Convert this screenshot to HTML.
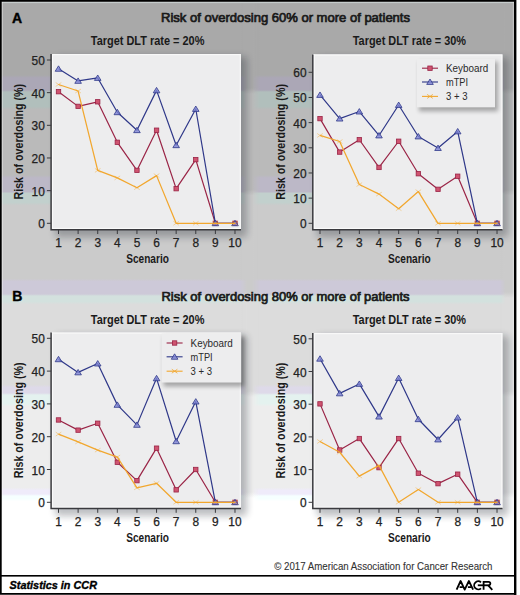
<!DOCTYPE html>
<html><head><meta charset="utf-8"><style>
html,body{margin:0;padding:0;background:#fff;}
svg{display:block;}
text{font-family:'Liberation Sans', sans-serif;fill:#1a1a1a;}
.tl{font-size:11.9px;fill:#222;stroke:#222;stroke-width:0.25px;}
.xl{font-size:11.9px;font-weight:bold;}
.st{font-size:12px;font-weight:bold;}
.ti{font-size:13px;stroke:#1a1a1a;stroke-width:0.72px;}
.pl{font-size:14px;font-weight:bold;fill:#000;stroke:#000;stroke-width:0.4px;}
.lg{font-size:10.5px;fill:#2a2a2a;}
</style></head><body>
<svg width="520" height="595" viewBox="0 0 520 595">
<defs>
<filter id="blur" x="-10%" y="-10%" width="120%" height="120%"><feGaussianBlur stdDeviation="3.5"/></filter>
<filter id="blur2" x="-20%" y="-20%" width="140%" height="140%"><feGaussianBlur stdDeviation="2"/></filter>
</defs>
<rect x="0" y="0" width="520" height="595" fill="#fff"/>

<defs><linearGradient id="bands" x1="0" y1="0" x2="0" y2="1"><stop offset="0.00000" stop-color="rgb(169,169,169)"/><stop offset="0.12816" stop-color="rgb(169,169,169)"/><stop offset="0.13339" stop-color="rgb(171,167,182)"/><stop offset="0.15432" stop-color="rgb(171,167,182)"/><stop offset="0.15780" stop-color="rgb(177,191,188)"/><stop offset="0.18309" stop-color="rgb(177,191,188)"/><stop offset="0.18832" stop-color="rgb(186,186,186)"/><stop offset="0.30253" stop-color="rgb(186,186,186)"/><stop offset="0.30776" stop-color="rgb(188,184,199)"/><stop offset="0.33130" stop-color="rgb(188,184,199)"/><stop offset="0.33479" stop-color="rgb(194,208,205)"/><stop offset="0.35048" stop-color="rgb(194,208,205)"/><stop offset="0.35571" stop-color="rgb(203,203,203)"/><stop offset="0.48300" stop-color="rgb(203,203,203)"/><stop offset="0.48823" stop-color="rgb(205,201,216)"/><stop offset="0.51003" stop-color="rgb(205,201,216)"/><stop offset="0.51351" stop-color="rgb(211,225,222)"/><stop offset="0.52310" stop-color="rgb(211,225,222)"/><stop offset="0.52833" stop-color="rgb(220,220,220)"/><stop offset="0.66783" stop-color="rgb(220,220,220)"/><stop offset="0.67306" stop-color="rgb(222,218,233)"/><stop offset="0.68265" stop-color="rgb(222,218,233)"/><stop offset="0.68614" stop-color="rgb(228,242,239)"/><stop offset="0.70096" stop-color="rgb(228,242,239)"/><stop offset="0.70619" stop-color="rgb(237,237,237)"/><stop offset="0.84743" stop-color="rgb(237,237,237)"/><stop offset="0.85266" stop-color="rgb(239,235,250)"/><stop offset="0.85876" stop-color="rgb(239,235,250)"/><stop offset="0.86225" stop-color="rgb(246,255,255)"/><stop offset="0.86661" stop-color="rgb(246,255,255)"/><stop offset="0.87184" stop-color="rgb(255,255,255)"/><stop offset="1.00000" stop-color="rgb(255,255,255)"/></linearGradient><linearGradient id="bands2" x1="0" y1="0" x2="0" y2="1"><stop offset="0.00000" stop-color="rgb(169,169,169)"/><stop offset="0.15083" stop-color="rgb(169,169,169)"/><stop offset="0.16129" stop-color="rgb(186,186,186)"/><stop offset="0.32781" stop-color="rgb(186,186,186)"/><stop offset="0.33827" stop-color="rgb(203,203,203)"/><stop offset="0.50654" stop-color="rgb(203,203,203)"/><stop offset="0.51700" stop-color="rgb(220,220,220)"/><stop offset="0.67916" stop-color="rgb(220,220,220)"/><stop offset="0.68963" stop-color="rgb(237,237,237)"/><stop offset="0.85527" stop-color="rgb(237,237,237)"/><stop offset="0.86574" stop-color="rgb(255,255,255)"/><stop offset="1.00000" stop-color="rgb(255,255,255)"/></linearGradient><linearGradient id="hm" x1="0" y1="0" x2="520" y2="0" gradientUnits="userSpaceOnUse"><stop offset="0" stop-color="#000"/><stop offset="0.462" stop-color="#000"/><stop offset="0.475" stop-color="#fff"/><stop offset="0.485" stop-color="#fff"/><stop offset="0.50" stop-color="#000"/><stop offset="0.962" stop-color="#000"/><stop offset="0.972" stop-color="#fff"/><stop offset="1" stop-color="#fff"/></linearGradient><mask id="shm" maskUnits="userSpaceOnUse" x="0" y="0" width="520" height="595"><rect x="0" y="0" width="520" height="595" fill="url(#hm)"/></mask></defs><rect x="1.5" y="1.5" width="513" height="573.5" fill="url(#bands)"/><rect x="1.5" y="1.5" width="513" height="573.5" fill="url(#bands2)" mask="url(#shm)"/>
<rect x="1.8" y="1.8" width="512" height="1.3" fill="#c6cccc"/>
<rect x="1.8" y="1.8" width="1.2" height="573" fill="#ffffff" opacity="0.35"/>
<rect x="512.8" y="1.8" width="1.2" height="573" fill="#ffffff" opacity="0.3"/>

<text x="12" y="22.6" class="pl">A</text>
<text x="285.5" y="22.2" text-anchor="middle" class="ti" textLength="249" lengthAdjust="spacingAndGlyphs">Risk of overdosing 60% or more of patients</text>
<text x="147.6" y="45.3" text-anchor="middle" class="st" textLength="113.6" lengthAdjust="spacingAndGlyphs">Target DLT rate = 20%</text>
<text x="409.4" y="45.3" text-anchor="middle" class="st" textLength="113.3" lengthAdjust="spacingAndGlyphs">Target DLT rate = 30%</text>
<rect x="55.1" y="56.5" width="191.9" height="180.8" rx="4" fill="#0a1624" opacity="0.27" filter="url(#blur)"/>
<rect x="51.1" y="54" width="189.9" height="175.8" fill="#ededee"/>
<rect x="51.9" y="54" width="1.2" height="175.0" fill="#fafafa"/>
<rect x="51.6" y="54.6" width="188.70000000000002" height="174.60000000000002" fill="none" stroke="#f8f8f8" stroke-width="1.2"/>
<rect x="51.9" y="227.8" width="189.1" height="1.3" fill="#fafafa"/>
<path d="M51.1 54 L51.1 229.8 L241 229.8" stroke="#3a3a3e" stroke-width="1.5" fill="none"/>
<line x1="46.9" y1="223.30" x2="51.1" y2="223.30" stroke="#3a3a3e" stroke-width="1"/>
<text x="44.800000000000004" y="228.30" text-anchor="end" class="tl">0</text>
<line x1="46.9" y1="190.64" x2="51.1" y2="190.64" stroke="#3a3a3e" stroke-width="1"/>
<text x="44.800000000000004" y="195.64" text-anchor="end" class="tl">10</text>
<line x1="46.9" y1="157.98" x2="51.1" y2="157.98" stroke="#3a3a3e" stroke-width="1"/>
<text x="44.800000000000004" y="162.98" text-anchor="end" class="tl">20</text>
<line x1="46.9" y1="125.32" x2="51.1" y2="125.32" stroke="#3a3a3e" stroke-width="1"/>
<text x="44.800000000000004" y="130.32" text-anchor="end" class="tl">30</text>
<line x1="46.9" y1="92.66" x2="51.1" y2="92.66" stroke="#3a3a3e" stroke-width="1"/>
<text x="44.800000000000004" y="97.66" text-anchor="end" class="tl">40</text>
<line x1="46.9" y1="60.00" x2="51.1" y2="60.00" stroke="#3a3a3e" stroke-width="1"/>
<text x="44.800000000000004" y="65.00" text-anchor="end" class="tl">50</text>
<line x1="58.50" y1="229.8" x2="58.50" y2="234.0" stroke="#3a3a3e" stroke-width="1"/>
<text x="58.50" y="246.80" text-anchor="middle" class="tl">1</text>
<line x1="78.11" y1="229.8" x2="78.11" y2="234.0" stroke="#3a3a3e" stroke-width="1"/>
<text x="78.11" y="246.80" text-anchor="middle" class="tl">2</text>
<line x1="97.72" y1="229.8" x2="97.72" y2="234.0" stroke="#3a3a3e" stroke-width="1"/>
<text x="97.72" y="246.80" text-anchor="middle" class="tl">3</text>
<line x1="117.33" y1="229.8" x2="117.33" y2="234.0" stroke="#3a3a3e" stroke-width="1"/>
<text x="117.33" y="246.80" text-anchor="middle" class="tl">4</text>
<line x1="136.94" y1="229.8" x2="136.94" y2="234.0" stroke="#3a3a3e" stroke-width="1"/>
<text x="136.94" y="246.80" text-anchor="middle" class="tl">5</text>
<line x1="156.55" y1="229.8" x2="156.55" y2="234.0" stroke="#3a3a3e" stroke-width="1"/>
<text x="156.55" y="246.80" text-anchor="middle" class="tl">6</text>
<line x1="176.16" y1="229.8" x2="176.16" y2="234.0" stroke="#3a3a3e" stroke-width="1"/>
<text x="176.16" y="246.80" text-anchor="middle" class="tl">7</text>
<line x1="195.77" y1="229.8" x2="195.77" y2="234.0" stroke="#3a3a3e" stroke-width="1"/>
<text x="195.77" y="246.80" text-anchor="middle" class="tl">8</text>
<line x1="215.38" y1="229.8" x2="215.38" y2="234.0" stroke="#3a3a3e" stroke-width="1"/>
<text x="215.38" y="246.80" text-anchor="middle" class="tl">9</text>
<line x1="234.99" y1="229.8" x2="234.99" y2="234.0" stroke="#3a3a3e" stroke-width="1"/>
<text x="234.99" y="246.80" text-anchor="middle" class="tl">10</text>
<polyline points="58.50,91.68 78.11,106.38 97.72,101.80 117.33,142.30 136.94,170.39 156.55,130.22 176.16,188.68 195.77,159.61 215.38,223.30 234.99,223.30" fill="none" stroke="#9a2446" stroke-width="1.2" stroke-linejoin="round"/>
<rect x="56.30" y="89.48" width="4.4" height="4.4" fill="#cf5470" stroke="#9a2446" stroke-width="0.8"/>
<rect x="75.91" y="104.18" width="4.4" height="4.4" fill="#cf5470" stroke="#9a2446" stroke-width="0.8"/>
<rect x="95.52" y="99.60" width="4.4" height="4.4" fill="#cf5470" stroke="#9a2446" stroke-width="0.8"/>
<rect x="115.13" y="140.10" width="4.4" height="4.4" fill="#cf5470" stroke="#9a2446" stroke-width="0.8"/>
<rect x="134.74" y="168.19" width="4.4" height="4.4" fill="#cf5470" stroke="#9a2446" stroke-width="0.8"/>
<rect x="154.35" y="128.02" width="4.4" height="4.4" fill="#cf5470" stroke="#9a2446" stroke-width="0.8"/>
<rect x="173.96" y="186.48" width="4.4" height="4.4" fill="#cf5470" stroke="#9a2446" stroke-width="0.8"/>
<rect x="193.57" y="157.41" width="4.4" height="4.4" fill="#cf5470" stroke="#9a2446" stroke-width="0.8"/>
<rect x="213.18" y="221.10" width="4.4" height="4.4" fill="#cf5470" stroke="#9a2446" stroke-width="0.8"/>
<rect x="232.79" y="221.10" width="4.4" height="4.4" fill="#cf5470" stroke="#9a2446" stroke-width="0.8"/>
<polyline points="58.50,68.82 78.11,80.90 97.72,77.96 117.33,112.26 136.94,130.22 156.55,90.37 176.16,145.24 195.77,108.99 215.38,223.30 234.99,223.30" fill="none" stroke="#2f3889" stroke-width="1.2" stroke-linejoin="round"/>
<path d="M58.50 65.85 L61.80 71.25 L55.20 71.25 Z" fill="#8084d4" fill-opacity="0.8" stroke="#2f3889" stroke-width="0.8" stroke-linejoin="miter"/>
<path d="M78.11 77.93 L81.41 83.33 L74.81 83.33 Z" fill="#8084d4" fill-opacity="0.8" stroke="#2f3889" stroke-width="0.8" stroke-linejoin="miter"/>
<path d="M97.72 74.99 L101.02 80.39 L94.42 80.39 Z" fill="#8084d4" fill-opacity="0.8" stroke="#2f3889" stroke-width="0.8" stroke-linejoin="miter"/>
<path d="M117.33 109.29 L120.63 114.69 L114.03 114.69 Z" fill="#8084d4" fill-opacity="0.8" stroke="#2f3889" stroke-width="0.8" stroke-linejoin="miter"/>
<path d="M136.94 127.25 L140.24 132.65 L133.64 132.65 Z" fill="#8084d4" fill-opacity="0.8" stroke="#2f3889" stroke-width="0.8" stroke-linejoin="miter"/>
<path d="M156.55 87.40 L159.85 92.80 L153.25 92.80 Z" fill="#8084d4" fill-opacity="0.8" stroke="#2f3889" stroke-width="0.8" stroke-linejoin="miter"/>
<path d="M176.16 142.27 L179.46 147.67 L172.86 147.67 Z" fill="#8084d4" fill-opacity="0.8" stroke="#2f3889" stroke-width="0.8" stroke-linejoin="miter"/>
<path d="M195.77 106.02 L199.07 111.42 L192.47 111.42 Z" fill="#8084d4" fill-opacity="0.8" stroke="#2f3889" stroke-width="0.8" stroke-linejoin="miter"/>
<path d="M215.38 220.33 L218.68 225.73 L212.08 225.73 Z" fill="#8084d4" fill-opacity="0.8" stroke="#2f3889" stroke-width="0.8" stroke-linejoin="miter"/>
<path d="M234.99 220.33 L238.29 225.73 L231.69 225.73 Z" fill="#8084d4" fill-opacity="0.8" stroke="#2f3889" stroke-width="0.8" stroke-linejoin="miter"/>
<polyline points="58.50,84.50 78.11,91.03 97.72,170.39 117.33,177.90 136.94,187.70 156.55,175.62 176.16,223.30 195.77,223.30 215.38,223.30 234.99,223.30" fill="none" stroke="#f2a72e" stroke-width="1.25" stroke-linejoin="round"/>
<path d="M55.70 82.54 L61.30 86.45 M55.70 86.45 L61.30 82.54" stroke="#f2a72e" stroke-width="0.6" opacity="0.75" fill="none"/>
<path d="M75.31 89.07 L80.91 92.99 M75.31 92.99 L80.91 89.07" stroke="#f2a72e" stroke-width="0.6" opacity="0.75" fill="none"/>
<path d="M94.92 168.43 L100.52 172.35 M94.92 172.35 L100.52 168.43" stroke="#f2a72e" stroke-width="0.6" opacity="0.75" fill="none"/>
<path d="M114.53 175.94 L120.13 179.86 M114.53 179.86 L120.13 175.94" stroke="#f2a72e" stroke-width="0.6" opacity="0.75" fill="none"/>
<path d="M134.14 185.74 L139.74 189.66 M134.14 189.66 L139.74 185.74" stroke="#f2a72e" stroke-width="0.6" opacity="0.75" fill="none"/>
<path d="M153.75 173.66 L159.35 177.58 M153.75 177.58 L159.35 173.66" stroke="#f2a72e" stroke-width="0.6" opacity="0.75" fill="none"/>
<path d="M173.36 221.34 L178.96 225.26 M173.36 225.26 L178.96 221.34" stroke="#f2a72e" stroke-width="0.6" opacity="0.75" fill="none"/>
<path d="M192.97 221.34 L198.57 225.26 M192.97 225.26 L198.57 221.34" stroke="#f2a72e" stroke-width="0.6" opacity="0.75" fill="none"/>
<path d="M212.58 221.34 L218.18 225.26 M212.58 225.26 L218.18 221.34" stroke="#f2a72e" stroke-width="0.6" opacity="0.75" fill="none"/>
<path d="M232.19 221.34 L237.79 225.26 M232.19 225.26 L237.79 221.34" stroke="#f2a72e" stroke-width="0.6" opacity="0.75" fill="none"/>
<text x="147.55" y="262.80" text-anchor="middle" class="xl" textLength="42.8" lengthAdjust="spacingAndGlyphs">Scenario</text>
<text transform="translate(23.20,141.70) rotate(-90)" text-anchor="middle" class="xl" textLength="115.7" lengthAdjust="spacingAndGlyphs">Risk of overdosing (%)</text>
<rect x="316.8" y="56.9" width="191.7" height="180.4" rx="4" fill="#0a1624" opacity="0.27" filter="url(#blur)"/>
<rect x="312.8" y="54.4" width="189.7" height="175.4" fill="#ededee"/>
<rect x="313.6" y="54.4" width="1.2" height="174.6" fill="#fafafa"/>
<rect x="313.3" y="55.0" width="188.5" height="174.20000000000002" fill="none" stroke="#f8f8f8" stroke-width="1.2"/>
<rect x="313.6" y="227.8" width="188.89999999999998" height="1.3" fill="#fafafa"/>
<path d="M312.8 54.4 L312.8 229.8 L502.5 229.8" stroke="#3a3a3e" stroke-width="1.5" fill="none"/>
<line x1="308.6" y1="223.30" x2="312.8" y2="223.30" stroke="#3a3a3e" stroke-width="1"/>
<text x="306.5" y="228.30" text-anchor="end" class="tl">0</text>
<line x1="308.6" y1="198.13" x2="312.8" y2="198.13" stroke="#3a3a3e" stroke-width="1"/>
<text x="306.5" y="203.13" text-anchor="end" class="tl">10</text>
<line x1="308.6" y1="172.97" x2="312.8" y2="172.97" stroke="#3a3a3e" stroke-width="1"/>
<text x="306.5" y="177.97" text-anchor="end" class="tl">20</text>
<line x1="308.6" y1="147.80" x2="312.8" y2="147.80" stroke="#3a3a3e" stroke-width="1"/>
<text x="306.5" y="152.80" text-anchor="end" class="tl">30</text>
<line x1="308.6" y1="122.63" x2="312.8" y2="122.63" stroke="#3a3a3e" stroke-width="1"/>
<text x="306.5" y="127.63" text-anchor="end" class="tl">40</text>
<line x1="308.6" y1="97.47" x2="312.8" y2="97.47" stroke="#3a3a3e" stroke-width="1"/>
<text x="306.5" y="102.47" text-anchor="end" class="tl">50</text>
<line x1="308.6" y1="72.30" x2="312.8" y2="72.30" stroke="#3a3a3e" stroke-width="1"/>
<text x="306.5" y="77.30" text-anchor="end" class="tl">60</text>
<line x1="320.00" y1="229.8" x2="320.00" y2="234.0" stroke="#3a3a3e" stroke-width="1"/>
<text x="320.00" y="246.80" text-anchor="middle" class="tl">1</text>
<line x1="339.67" y1="229.8" x2="339.67" y2="234.0" stroke="#3a3a3e" stroke-width="1"/>
<text x="339.67" y="246.80" text-anchor="middle" class="tl">2</text>
<line x1="359.34" y1="229.8" x2="359.34" y2="234.0" stroke="#3a3a3e" stroke-width="1"/>
<text x="359.34" y="246.80" text-anchor="middle" class="tl">3</text>
<line x1="379.01" y1="229.8" x2="379.01" y2="234.0" stroke="#3a3a3e" stroke-width="1"/>
<text x="379.01" y="246.80" text-anchor="middle" class="tl">4</text>
<line x1="398.68" y1="229.8" x2="398.68" y2="234.0" stroke="#3a3a3e" stroke-width="1"/>
<text x="398.68" y="246.80" text-anchor="middle" class="tl">5</text>
<line x1="418.35" y1="229.8" x2="418.35" y2="234.0" stroke="#3a3a3e" stroke-width="1"/>
<text x="418.35" y="246.80" text-anchor="middle" class="tl">6</text>
<line x1="438.02" y1="229.8" x2="438.02" y2="234.0" stroke="#3a3a3e" stroke-width="1"/>
<text x="438.02" y="246.80" text-anchor="middle" class="tl">7</text>
<line x1="457.69" y1="229.8" x2="457.69" y2="234.0" stroke="#3a3a3e" stroke-width="1"/>
<text x="457.69" y="246.80" text-anchor="middle" class="tl">8</text>
<line x1="477.36" y1="229.8" x2="477.36" y2="234.0" stroke="#3a3a3e" stroke-width="1"/>
<text x="477.36" y="246.80" text-anchor="middle" class="tl">9</text>
<line x1="497.03" y1="229.8" x2="497.03" y2="234.0" stroke="#3a3a3e" stroke-width="1"/>
<text x="497.03" y="246.80" text-anchor="middle" class="tl">10</text>
<polyline points="320.00,118.61 339.67,152.08 359.34,139.75 379.01,167.43 398.68,141.26 418.35,173.72 438.02,189.33 457.69,176.24 477.36,223.30 497.03,223.30" fill="none" stroke="#9a2446" stroke-width="1.2" stroke-linejoin="round"/>
<rect x="317.80" y="116.41" width="4.4" height="4.4" fill="#cf5470" stroke="#9a2446" stroke-width="0.8"/>
<rect x="337.47" y="149.88" width="4.4" height="4.4" fill="#cf5470" stroke="#9a2446" stroke-width="0.8"/>
<rect x="357.14" y="137.55" width="4.4" height="4.4" fill="#cf5470" stroke="#9a2446" stroke-width="0.8"/>
<rect x="376.81" y="165.23" width="4.4" height="4.4" fill="#cf5470" stroke="#9a2446" stroke-width="0.8"/>
<rect x="396.48" y="139.06" width="4.4" height="4.4" fill="#cf5470" stroke="#9a2446" stroke-width="0.8"/>
<rect x="416.15" y="171.52" width="4.4" height="4.4" fill="#cf5470" stroke="#9a2446" stroke-width="0.8"/>
<rect x="435.82" y="187.13" width="4.4" height="4.4" fill="#cf5470" stroke="#9a2446" stroke-width="0.8"/>
<rect x="455.49" y="174.04" width="4.4" height="4.4" fill="#cf5470" stroke="#9a2446" stroke-width="0.8"/>
<rect x="475.16" y="221.10" width="4.4" height="4.4" fill="#cf5470" stroke="#9a2446" stroke-width="0.8"/>
<rect x="494.83" y="221.10" width="4.4" height="4.4" fill="#cf5470" stroke="#9a2446" stroke-width="0.8"/>
<polyline points="320.00,94.95 339.67,118.61 359.34,111.56 379.01,135.47 398.68,105.02 418.35,136.48 438.02,148.05 457.69,131.44 477.36,223.30 497.03,223.30" fill="none" stroke="#2f3889" stroke-width="1.2" stroke-linejoin="round"/>
<path d="M320.00 91.98 L323.30 97.38 L316.70 97.38 Z" fill="#8084d4" fill-opacity="0.8" stroke="#2f3889" stroke-width="0.8" stroke-linejoin="miter"/>
<path d="M339.67 115.64 L342.97 121.04 L336.37 121.04 Z" fill="#8084d4" fill-opacity="0.8" stroke="#2f3889" stroke-width="0.8" stroke-linejoin="miter"/>
<path d="M359.34 108.59 L362.64 113.99 L356.04 113.99 Z" fill="#8084d4" fill-opacity="0.8" stroke="#2f3889" stroke-width="0.8" stroke-linejoin="miter"/>
<path d="M379.01 132.50 L382.31 137.90 L375.71 137.90 Z" fill="#8084d4" fill-opacity="0.8" stroke="#2f3889" stroke-width="0.8" stroke-linejoin="miter"/>
<path d="M398.68 102.05 L401.98 107.45 L395.38 107.45 Z" fill="#8084d4" fill-opacity="0.8" stroke="#2f3889" stroke-width="0.8" stroke-linejoin="miter"/>
<path d="M418.35 133.51 L421.65 138.91 L415.05 138.91 Z" fill="#8084d4" fill-opacity="0.8" stroke="#2f3889" stroke-width="0.8" stroke-linejoin="miter"/>
<path d="M438.02 145.08 L441.32 150.48 L434.72 150.48 Z" fill="#8084d4" fill-opacity="0.8" stroke="#2f3889" stroke-width="0.8" stroke-linejoin="miter"/>
<path d="M457.69 128.47 L460.99 133.87 L454.39 133.87 Z" fill="#8084d4" fill-opacity="0.8" stroke="#2f3889" stroke-width="0.8" stroke-linejoin="miter"/>
<path d="M477.36 220.33 L480.66 225.73 L474.06 225.73 Z" fill="#8084d4" fill-opacity="0.8" stroke="#2f3889" stroke-width="0.8" stroke-linejoin="miter"/>
<path d="M497.03 220.33 L500.33 225.73 L493.73 225.73 Z" fill="#8084d4" fill-opacity="0.8" stroke="#2f3889" stroke-width="0.8" stroke-linejoin="miter"/>
<polyline points="320.00,135.47 339.67,141.51 359.34,184.54 379.01,194.11 398.68,208.70 418.35,191.59 438.02,223.30 457.69,223.30 477.36,223.30 497.03,223.30" fill="none" stroke="#f2a72e" stroke-width="1.25" stroke-linejoin="round"/>
<path d="M317.20 133.51 L322.80 137.43 M317.20 137.43 L322.80 133.51" stroke="#f2a72e" stroke-width="0.6" opacity="0.75" fill="none"/>
<path d="M336.87 139.55 L342.47 143.47 M336.87 143.47 L342.47 139.55" stroke="#f2a72e" stroke-width="0.6" opacity="0.75" fill="none"/>
<path d="M356.54 182.58 L362.14 186.50 M356.54 186.50 L362.14 182.58" stroke="#f2a72e" stroke-width="0.6" opacity="0.75" fill="none"/>
<path d="M376.21 192.15 L381.81 196.07 M376.21 196.07 L381.81 192.15" stroke="#f2a72e" stroke-width="0.6" opacity="0.75" fill="none"/>
<path d="M395.88 206.74 L401.48 210.66 M395.88 210.66 L401.48 206.74" stroke="#f2a72e" stroke-width="0.6" opacity="0.75" fill="none"/>
<path d="M415.55 189.63 L421.15 193.55 M415.55 193.55 L421.15 189.63" stroke="#f2a72e" stroke-width="0.6" opacity="0.75" fill="none"/>
<path d="M435.22 221.34 L440.82 225.26 M435.22 225.26 L440.82 221.34" stroke="#f2a72e" stroke-width="0.6" opacity="0.75" fill="none"/>
<path d="M454.89 221.34 L460.49 225.26 M454.89 225.26 L460.49 221.34" stroke="#f2a72e" stroke-width="0.6" opacity="0.75" fill="none"/>
<path d="M474.56 221.34 L480.16 225.26 M474.56 225.26 L480.16 221.34" stroke="#f2a72e" stroke-width="0.6" opacity="0.75" fill="none"/>
<path d="M494.23 221.34 L499.83 225.26 M494.23 225.26 L499.83 221.34" stroke="#f2a72e" stroke-width="0.6" opacity="0.75" fill="none"/>
<text x="409.31" y="262.80" text-anchor="middle" class="xl" textLength="42.8" lengthAdjust="spacingAndGlyphs">Scenario</text>
<text transform="translate(284.90,141.90) rotate(-90)" text-anchor="middle" class="xl" textLength="115.7" lengthAdjust="spacingAndGlyphs">Risk of overdosing (%)</text>
<rect x="419" y="61.7" width="79" height="49.6" fill="#000" opacity="0.3" filter="url(#blur2)"/>
<rect x="417" y="58.7" width="78" height="48.6" fill="#ededee"/>
<line x1="422" y1="68.2" x2="438" y2="68.2" stroke="#9a2446" stroke-width="1.1"/>
<rect x="427.80" y="66.00" width="4.4" height="4.4" fill="#cf5470" stroke="#9a2446" stroke-width="0.8"/>
<text x="446" y="72.00" class="lg" textLength="42.2" lengthAdjust="spacingAndGlyphs">Keyboard</text>
<line x1="422" y1="82.0" x2="438" y2="82.0" stroke="#2f3889" stroke-width="1.1"/>
<path d="M430.00 79.03 L433.30 84.43 L426.70 84.43 Z" fill="#8084d4" fill-opacity="0.8" stroke="#2f3889" stroke-width="0.8" stroke-linejoin="miter"/>
<text x="446" y="85.80" class="lg" textLength="22.0" lengthAdjust="spacingAndGlyphs">mTPI</text>
<line x1="422" y1="96.4" x2="438" y2="96.4" stroke="#f2a72e" stroke-width="1.1"/>
<path d="M427.20 94.44 L432.80 98.36 M427.20 98.36 L432.80 94.44" stroke="#f2a72e" stroke-width="0.9" opacity="0.9" fill="none"/>
<text x="446" y="100.20" class="lg" textLength="21.5" lengthAdjust="spacingAndGlyphs">3 + 3</text>
<text x="12.3" y="301.2" class="pl">B</text>
<text x="285.5" y="300.7" text-anchor="middle" class="ti" textLength="248.2" lengthAdjust="spacingAndGlyphs">Risk of overdosing 80% or more of patients</text>
<text x="147.6" y="323.8" text-anchor="middle" class="st" textLength="113.6" lengthAdjust="spacingAndGlyphs">Target DLT rate = 20%</text>
<text x="409.4" y="323.8" text-anchor="middle" class="st" textLength="113.3" lengthAdjust="spacingAndGlyphs">Target DLT rate = 30%</text>
<rect x="55.1" y="335.0" width="191.9" height="181.10000000000002" rx="4" fill="#0a1624" opacity="0.27" filter="url(#blur)"/>
<rect x="51.1" y="332.5" width="189.9" height="176.10000000000002" fill="#ededee"/>
<rect x="51.9" y="332.5" width="1.2" height="175.3" fill="#fafafa"/>
<rect x="51.6" y="333.1" width="188.70000000000002" height="174.90000000000003" fill="none" stroke="#f8f8f8" stroke-width="1.2"/>
<rect x="51.9" y="506.6" width="189.1" height="1.3" fill="#fafafa"/>
<path d="M51.1 332.5 L51.1 508.6 L241 508.6" stroke="#3a3a3e" stroke-width="1.5" fill="none"/>
<line x1="46.9" y1="502.30" x2="51.1" y2="502.30" stroke="#3a3a3e" stroke-width="1"/>
<text x="44.800000000000004" y="507.30" text-anchor="end" class="tl">0</text>
<line x1="46.9" y1="469.50" x2="51.1" y2="469.50" stroke="#3a3a3e" stroke-width="1"/>
<text x="44.800000000000004" y="474.50" text-anchor="end" class="tl">10</text>
<line x1="46.9" y1="436.70" x2="51.1" y2="436.70" stroke="#3a3a3e" stroke-width="1"/>
<text x="44.800000000000004" y="441.70" text-anchor="end" class="tl">20</text>
<line x1="46.9" y1="403.90" x2="51.1" y2="403.90" stroke="#3a3a3e" stroke-width="1"/>
<text x="44.800000000000004" y="408.90" text-anchor="end" class="tl">30</text>
<line x1="46.9" y1="371.10" x2="51.1" y2="371.10" stroke="#3a3a3e" stroke-width="1"/>
<text x="44.800000000000004" y="376.10" text-anchor="end" class="tl">40</text>
<line x1="46.9" y1="338.30" x2="51.1" y2="338.30" stroke="#3a3a3e" stroke-width="1"/>
<text x="44.800000000000004" y="343.30" text-anchor="end" class="tl">50</text>
<line x1="58.50" y1="508.6" x2="58.50" y2="512.8000000000001" stroke="#3a3a3e" stroke-width="1"/>
<text x="58.50" y="525.60" text-anchor="middle" class="tl">1</text>
<line x1="78.11" y1="508.6" x2="78.11" y2="512.8000000000001" stroke="#3a3a3e" stroke-width="1"/>
<text x="78.11" y="525.60" text-anchor="middle" class="tl">2</text>
<line x1="97.72" y1="508.6" x2="97.72" y2="512.8000000000001" stroke="#3a3a3e" stroke-width="1"/>
<text x="97.72" y="525.60" text-anchor="middle" class="tl">3</text>
<line x1="117.33" y1="508.6" x2="117.33" y2="512.8000000000001" stroke="#3a3a3e" stroke-width="1"/>
<text x="117.33" y="525.60" text-anchor="middle" class="tl">4</text>
<line x1="136.94" y1="508.6" x2="136.94" y2="512.8000000000001" stroke="#3a3a3e" stroke-width="1"/>
<text x="136.94" y="525.60" text-anchor="middle" class="tl">5</text>
<line x1="156.55" y1="508.6" x2="156.55" y2="512.8000000000001" stroke="#3a3a3e" stroke-width="1"/>
<text x="156.55" y="525.60" text-anchor="middle" class="tl">6</text>
<line x1="176.16" y1="508.6" x2="176.16" y2="512.8000000000001" stroke="#3a3a3e" stroke-width="1"/>
<text x="176.16" y="525.60" text-anchor="middle" class="tl">7</text>
<line x1="195.77" y1="508.6" x2="195.77" y2="512.8000000000001" stroke="#3a3a3e" stroke-width="1"/>
<text x="195.77" y="525.60" text-anchor="middle" class="tl">8</text>
<line x1="215.38" y1="508.6" x2="215.38" y2="512.8000000000001" stroke="#3a3a3e" stroke-width="1"/>
<text x="215.38" y="525.60" text-anchor="middle" class="tl">9</text>
<line x1="234.99" y1="508.6" x2="234.99" y2="512.8000000000001" stroke="#3a3a3e" stroke-width="1"/>
<text x="234.99" y="525.60" text-anchor="middle" class="tl">10</text>
<polyline points="58.50,419.97 78.11,430.14 97.72,423.25 117.33,462.28 136.94,480.65 156.55,448.18 176.16,489.84 195.77,469.50 215.38,502.30 234.99,502.30" fill="none" stroke="#9a2446" stroke-width="1.2" stroke-linejoin="round"/>
<rect x="56.30" y="417.77" width="4.4" height="4.4" fill="#cf5470" stroke="#9a2446" stroke-width="0.8"/>
<rect x="75.91" y="427.94" width="4.4" height="4.4" fill="#cf5470" stroke="#9a2446" stroke-width="0.8"/>
<rect x="95.52" y="421.05" width="4.4" height="4.4" fill="#cf5470" stroke="#9a2446" stroke-width="0.8"/>
<rect x="115.13" y="460.08" width="4.4" height="4.4" fill="#cf5470" stroke="#9a2446" stroke-width="0.8"/>
<rect x="134.74" y="478.45" width="4.4" height="4.4" fill="#cf5470" stroke="#9a2446" stroke-width="0.8"/>
<rect x="154.35" y="445.98" width="4.4" height="4.4" fill="#cf5470" stroke="#9a2446" stroke-width="0.8"/>
<rect x="173.96" y="487.64" width="4.4" height="4.4" fill="#cf5470" stroke="#9a2446" stroke-width="0.8"/>
<rect x="193.57" y="467.30" width="4.4" height="4.4" fill="#cf5470" stroke="#9a2446" stroke-width="0.8"/>
<rect x="213.18" y="500.10" width="4.4" height="4.4" fill="#cf5470" stroke="#9a2446" stroke-width="0.8"/>
<rect x="232.79" y="500.10" width="4.4" height="4.4" fill="#cf5470" stroke="#9a2446" stroke-width="0.8"/>
<polyline points="58.50,359.29 78.11,372.41 97.72,363.56 117.33,404.88 136.94,424.89 156.55,378.32 176.16,441.29 195.77,401.60 215.38,502.30 234.99,502.30" fill="none" stroke="#2f3889" stroke-width="1.2" stroke-linejoin="round"/>
<path d="M58.50 356.32 L61.80 361.72 L55.20 361.72 Z" fill="#8084d4" fill-opacity="0.8" stroke="#2f3889" stroke-width="0.8" stroke-linejoin="miter"/>
<path d="M78.11 369.44 L81.41 374.84 L74.81 374.84 Z" fill="#8084d4" fill-opacity="0.8" stroke="#2f3889" stroke-width="0.8" stroke-linejoin="miter"/>
<path d="M97.72 360.59 L101.02 365.99 L94.42 365.99 Z" fill="#8084d4" fill-opacity="0.8" stroke="#2f3889" stroke-width="0.8" stroke-linejoin="miter"/>
<path d="M117.33 401.91 L120.63 407.31 L114.03 407.31 Z" fill="#8084d4" fill-opacity="0.8" stroke="#2f3889" stroke-width="0.8" stroke-linejoin="miter"/>
<path d="M136.94 421.92 L140.24 427.32 L133.64 427.32 Z" fill="#8084d4" fill-opacity="0.8" stroke="#2f3889" stroke-width="0.8" stroke-linejoin="miter"/>
<path d="M156.55 375.35 L159.85 380.75 L153.25 380.75 Z" fill="#8084d4" fill-opacity="0.8" stroke="#2f3889" stroke-width="0.8" stroke-linejoin="miter"/>
<path d="M176.16 438.32 L179.46 443.72 L172.86 443.72 Z" fill="#8084d4" fill-opacity="0.8" stroke="#2f3889" stroke-width="0.8" stroke-linejoin="miter"/>
<path d="M195.77 398.63 L199.07 404.03 L192.47 404.03 Z" fill="#8084d4" fill-opacity="0.8" stroke="#2f3889" stroke-width="0.8" stroke-linejoin="miter"/>
<path d="M215.38 499.33 L218.68 504.73 L212.08 504.73 Z" fill="#8084d4" fill-opacity="0.8" stroke="#2f3889" stroke-width="0.8" stroke-linejoin="miter"/>
<path d="M234.99 499.33 L238.29 504.73 L231.69 504.73 Z" fill="#8084d4" fill-opacity="0.8" stroke="#2f3889" stroke-width="0.8" stroke-linejoin="miter"/>
<polyline points="58.50,434.08 78.11,441.95 97.72,450.15 117.33,457.04 136.94,487.87 156.55,483.28 176.16,502.30 195.77,502.30 215.38,502.30 234.99,502.30" fill="none" stroke="#f2a72e" stroke-width="1.25" stroke-linejoin="round"/>
<path d="M55.70 432.12 L61.30 436.04 M55.70 436.04 L61.30 432.12" stroke="#f2a72e" stroke-width="0.6" opacity="0.75" fill="none"/>
<path d="M75.31 439.99 L80.91 443.91 M75.31 443.91 L80.91 439.99" stroke="#f2a72e" stroke-width="0.6" opacity="0.75" fill="none"/>
<path d="M94.92 448.19 L100.52 452.11 M94.92 452.11 L100.52 448.19" stroke="#f2a72e" stroke-width="0.6" opacity="0.75" fill="none"/>
<path d="M114.53 455.08 L120.13 459.00 M114.53 459.00 L120.13 455.08" stroke="#f2a72e" stroke-width="0.6" opacity="0.75" fill="none"/>
<path d="M134.14 485.91 L139.74 489.83 M134.14 489.83 L139.74 485.91" stroke="#f2a72e" stroke-width="0.6" opacity="0.75" fill="none"/>
<path d="M153.75 481.32 L159.35 485.24 M153.75 485.24 L159.35 481.32" stroke="#f2a72e" stroke-width="0.6" opacity="0.75" fill="none"/>
<path d="M173.36 500.34 L178.96 504.26 M173.36 504.26 L178.96 500.34" stroke="#f2a72e" stroke-width="0.6" opacity="0.75" fill="none"/>
<path d="M192.97 500.34 L198.57 504.26 M192.97 504.26 L198.57 500.34" stroke="#f2a72e" stroke-width="0.6" opacity="0.75" fill="none"/>
<path d="M212.58 500.34 L218.18 504.26 M212.58 504.26 L218.18 500.34" stroke="#f2a72e" stroke-width="0.6" opacity="0.75" fill="none"/>
<path d="M232.19 500.34 L237.79 504.26 M232.19 504.26 L237.79 500.34" stroke="#f2a72e" stroke-width="0.6" opacity="0.75" fill="none"/>
<text x="147.55" y="541.60" text-anchor="middle" class="xl" textLength="42.8" lengthAdjust="spacingAndGlyphs">Scenario</text>
<text transform="translate(23.20,420.35) rotate(-90)" text-anchor="middle" class="xl" textLength="115.7" lengthAdjust="spacingAndGlyphs">Risk of overdosing (%)</text>
<rect x="163.6" y="336.5" width="80.6" height="50" fill="#000" opacity="0.3" filter="url(#blur2)"/>
<rect x="161.6" y="333.5" width="79.6" height="49" fill="#ededee"/>
<line x1="166.6" y1="343.0" x2="182.6" y2="343.0" stroke="#9a2446" stroke-width="1.1"/>
<rect x="172.40" y="340.80" width="4.4" height="4.4" fill="#cf5470" stroke="#9a2446" stroke-width="0.8"/>
<text x="190.6" y="346.80" class="lg" textLength="42.2" lengthAdjust="spacingAndGlyphs">Keyboard</text>
<line x1="166.6" y1="356.8" x2="182.6" y2="356.8" stroke="#2f3889" stroke-width="1.1"/>
<path d="M174.60 353.83 L177.90 359.23 L171.30 359.23 Z" fill="#8084d4" fill-opacity="0.8" stroke="#2f3889" stroke-width="0.8" stroke-linejoin="miter"/>
<text x="190.6" y="360.60" class="lg" textLength="22.0" lengthAdjust="spacingAndGlyphs">mTPI</text>
<line x1="166.6" y1="371.2" x2="182.6" y2="371.2" stroke="#f2a72e" stroke-width="1.1"/>
<path d="M171.80 369.24 L177.40 373.16 M171.80 373.16 L177.40 369.24" stroke="#f2a72e" stroke-width="0.9" opacity="0.9" fill="none"/>
<text x="190.6" y="375.00" class="lg" textLength="21.5" lengthAdjust="spacingAndGlyphs">3 + 3</text>
<rect x="316.8" y="335.5" width="191.7" height="180.60000000000002" rx="4" fill="#0a1624" opacity="0.27" filter="url(#blur)"/>
<rect x="312.8" y="333.0" width="189.7" height="175.60000000000002" fill="#ededee"/>
<rect x="313.6" y="333.0" width="1.2" height="174.8" fill="#fafafa"/>
<rect x="313.3" y="333.6" width="188.5" height="174.40000000000003" fill="none" stroke="#f8f8f8" stroke-width="1.2"/>
<rect x="313.6" y="506.6" width="188.89999999999998" height="1.3" fill="#fafafa"/>
<path d="M312.8 333.0 L312.8 508.6 L502.5 508.6" stroke="#3a3a3e" stroke-width="1.5" fill="none"/>
<line x1="308.6" y1="502.30" x2="312.8" y2="502.30" stroke="#3a3a3e" stroke-width="1"/>
<text x="306.5" y="507.30" text-anchor="end" class="tl">0</text>
<line x1="308.6" y1="469.60" x2="312.8" y2="469.60" stroke="#3a3a3e" stroke-width="1"/>
<text x="306.5" y="474.60" text-anchor="end" class="tl">10</text>
<line x1="308.6" y1="436.90" x2="312.8" y2="436.90" stroke="#3a3a3e" stroke-width="1"/>
<text x="306.5" y="441.90" text-anchor="end" class="tl">20</text>
<line x1="308.6" y1="404.20" x2="312.8" y2="404.20" stroke="#3a3a3e" stroke-width="1"/>
<text x="306.5" y="409.20" text-anchor="end" class="tl">30</text>
<line x1="308.6" y1="371.50" x2="312.8" y2="371.50" stroke="#3a3a3e" stroke-width="1"/>
<text x="306.5" y="376.50" text-anchor="end" class="tl">40</text>
<line x1="308.6" y1="338.80" x2="312.8" y2="338.80" stroke="#3a3a3e" stroke-width="1"/>
<text x="306.5" y="343.80" text-anchor="end" class="tl">50</text>
<line x1="320.00" y1="508.6" x2="320.00" y2="512.8000000000001" stroke="#3a3a3e" stroke-width="1"/>
<text x="320.00" y="525.60" text-anchor="middle" class="tl">1</text>
<line x1="339.67" y1="508.6" x2="339.67" y2="512.8000000000001" stroke="#3a3a3e" stroke-width="1"/>
<text x="339.67" y="525.60" text-anchor="middle" class="tl">2</text>
<line x1="359.34" y1="508.6" x2="359.34" y2="512.8000000000001" stroke="#3a3a3e" stroke-width="1"/>
<text x="359.34" y="525.60" text-anchor="middle" class="tl">3</text>
<line x1="379.01" y1="508.6" x2="379.01" y2="512.8000000000001" stroke="#3a3a3e" stroke-width="1"/>
<text x="379.01" y="525.60" text-anchor="middle" class="tl">4</text>
<line x1="398.68" y1="508.6" x2="398.68" y2="512.8000000000001" stroke="#3a3a3e" stroke-width="1"/>
<text x="398.68" y="525.60" text-anchor="middle" class="tl">5</text>
<line x1="418.35" y1="508.6" x2="418.35" y2="512.8000000000001" stroke="#3a3a3e" stroke-width="1"/>
<text x="418.35" y="525.60" text-anchor="middle" class="tl">6</text>
<line x1="438.02" y1="508.6" x2="438.02" y2="512.8000000000001" stroke="#3a3a3e" stroke-width="1"/>
<text x="438.02" y="525.60" text-anchor="middle" class="tl">7</text>
<line x1="457.69" y1="508.6" x2="457.69" y2="512.8000000000001" stroke="#3a3a3e" stroke-width="1"/>
<text x="457.69" y="525.60" text-anchor="middle" class="tl">8</text>
<line x1="477.36" y1="508.6" x2="477.36" y2="512.8000000000001" stroke="#3a3a3e" stroke-width="1"/>
<text x="477.36" y="525.60" text-anchor="middle" class="tl">9</text>
<line x1="497.03" y1="508.6" x2="497.03" y2="512.8000000000001" stroke="#3a3a3e" stroke-width="1"/>
<text x="497.03" y="525.60" text-anchor="middle" class="tl">10</text>
<polyline points="320.00,403.87 339.67,449.98 359.34,438.54 379.01,467.64 398.68,438.54 418.35,473.20 438.02,483.66 457.69,474.18 477.36,502.30 497.03,502.30" fill="none" stroke="#9a2446" stroke-width="1.2" stroke-linejoin="round"/>
<rect x="317.80" y="401.67" width="4.4" height="4.4" fill="#cf5470" stroke="#9a2446" stroke-width="0.8"/>
<rect x="337.47" y="447.78" width="4.4" height="4.4" fill="#cf5470" stroke="#9a2446" stroke-width="0.8"/>
<rect x="357.14" y="436.34" width="4.4" height="4.4" fill="#cf5470" stroke="#9a2446" stroke-width="0.8"/>
<rect x="376.81" y="465.44" width="4.4" height="4.4" fill="#cf5470" stroke="#9a2446" stroke-width="0.8"/>
<rect x="396.48" y="436.34" width="4.4" height="4.4" fill="#cf5470" stroke="#9a2446" stroke-width="0.8"/>
<rect x="416.15" y="471.00" width="4.4" height="4.4" fill="#cf5470" stroke="#9a2446" stroke-width="0.8"/>
<rect x="435.82" y="481.46" width="4.4" height="4.4" fill="#cf5470" stroke="#9a2446" stroke-width="0.8"/>
<rect x="455.49" y="471.98" width="4.4" height="4.4" fill="#cf5470" stroke="#9a2446" stroke-width="0.8"/>
<rect x="475.16" y="500.10" width="4.4" height="4.4" fill="#cf5470" stroke="#9a2446" stroke-width="0.8"/>
<rect x="494.83" y="500.10" width="4.4" height="4.4" fill="#cf5470" stroke="#9a2446" stroke-width="0.8"/>
<polyline points="320.00,358.75 339.67,393.41 359.34,383.93 379.01,416.63 398.68,378.04 418.35,419.24 438.02,439.52 457.69,417.61 477.36,502.30 497.03,502.30" fill="none" stroke="#2f3889" stroke-width="1.2" stroke-linejoin="round"/>
<path d="M320.00 355.78 L323.30 361.18 L316.70 361.18 Z" fill="#8084d4" fill-opacity="0.8" stroke="#2f3889" stroke-width="0.8" stroke-linejoin="miter"/>
<path d="M339.67 390.44 L342.97 395.84 L336.37 395.84 Z" fill="#8084d4" fill-opacity="0.8" stroke="#2f3889" stroke-width="0.8" stroke-linejoin="miter"/>
<path d="M359.34 380.96 L362.64 386.36 L356.04 386.36 Z" fill="#8084d4" fill-opacity="0.8" stroke="#2f3889" stroke-width="0.8" stroke-linejoin="miter"/>
<path d="M379.01 413.66 L382.31 419.06 L375.71 419.06 Z" fill="#8084d4" fill-opacity="0.8" stroke="#2f3889" stroke-width="0.8" stroke-linejoin="miter"/>
<path d="M398.68 375.07 L401.98 380.47 L395.38 380.47 Z" fill="#8084d4" fill-opacity="0.8" stroke="#2f3889" stroke-width="0.8" stroke-linejoin="miter"/>
<path d="M418.35 416.27 L421.65 421.67 L415.05 421.67 Z" fill="#8084d4" fill-opacity="0.8" stroke="#2f3889" stroke-width="0.8" stroke-linejoin="miter"/>
<path d="M438.02 436.55 L441.32 441.95 L434.72 441.95 Z" fill="#8084d4" fill-opacity="0.8" stroke="#2f3889" stroke-width="0.8" stroke-linejoin="miter"/>
<path d="M457.69 414.64 L460.99 420.04 L454.39 420.04 Z" fill="#8084d4" fill-opacity="0.8" stroke="#2f3889" stroke-width="0.8" stroke-linejoin="miter"/>
<path d="M477.36 499.33 L480.66 504.73 L474.06 504.73 Z" fill="#8084d4" fill-opacity="0.8" stroke="#2f3889" stroke-width="0.8" stroke-linejoin="miter"/>
<path d="M497.03 499.33 L500.33 504.73 L493.73 504.73 Z" fill="#8084d4" fill-opacity="0.8" stroke="#2f3889" stroke-width="0.8" stroke-linejoin="miter"/>
<polyline points="320.00,441.48 339.67,452.27 359.34,476.14 379.01,465.35 398.68,502.30 418.35,489.55 438.02,502.30 457.69,502.30 477.36,502.30 497.03,502.30" fill="none" stroke="#f2a72e" stroke-width="1.25" stroke-linejoin="round"/>
<path d="M317.20 439.52 L322.80 443.44 M317.20 443.44 L322.80 439.52" stroke="#f2a72e" stroke-width="0.6" opacity="0.75" fill="none"/>
<path d="M336.87 450.31 L342.47 454.23 M336.87 454.23 L342.47 450.31" stroke="#f2a72e" stroke-width="0.6" opacity="0.75" fill="none"/>
<path d="M356.54 474.18 L362.14 478.10 M356.54 478.10 L362.14 474.18" stroke="#f2a72e" stroke-width="0.6" opacity="0.75" fill="none"/>
<path d="M376.21 463.39 L381.81 467.31 M376.21 467.31 L381.81 463.39" stroke="#f2a72e" stroke-width="0.6" opacity="0.75" fill="none"/>
<path d="M395.88 500.34 L401.48 504.26 M395.88 504.26 L401.48 500.34" stroke="#f2a72e" stroke-width="0.6" opacity="0.75" fill="none"/>
<path d="M415.55 487.59 L421.15 491.51 M415.55 491.51 L421.15 487.59" stroke="#f2a72e" stroke-width="0.6" opacity="0.75" fill="none"/>
<path d="M435.22 500.34 L440.82 504.26 M435.22 504.26 L440.82 500.34" stroke="#f2a72e" stroke-width="0.6" opacity="0.75" fill="none"/>
<path d="M454.89 500.34 L460.49 504.26 M454.89 504.26 L460.49 500.34" stroke="#f2a72e" stroke-width="0.6" opacity="0.75" fill="none"/>
<path d="M474.56 500.34 L480.16 504.26 M474.56 504.26 L480.16 500.34" stroke="#f2a72e" stroke-width="0.6" opacity="0.75" fill="none"/>
<path d="M494.23 500.34 L499.83 504.26 M494.23 504.26 L499.83 500.34" stroke="#f2a72e" stroke-width="0.6" opacity="0.75" fill="none"/>
<text x="409.31" y="541.60" text-anchor="middle" class="xl" textLength="42.8" lengthAdjust="spacingAndGlyphs">Scenario</text>
<text transform="translate(284.90,420.60) rotate(-90)" text-anchor="middle" class="xl" textLength="115.7" lengthAdjust="spacingAndGlyphs">Risk of overdosing (%)</text>
<text x="274.2" y="570.2" class="cp" style="font-size:10.6px;fill:#333;stroke:#333;stroke-width:0.1px" textLength="218.3" lengthAdjust="spacingAndGlyphs">© 2017 American Association for Cancer Research</text>
<path d="M0.8 0.8 H515.1 V593.9 H0.8 Z" fill="none" stroke="#000" stroke-width="1.8"/>
<rect x="514" y="0" width="2.4" height="595" fill="#000"/>
<rect x="0" y="575" width="516" height="1.6" fill="#000"/>
<text x="9.6" y="588.8" style="font-size:10.8px;font-weight:bold;font-style:italic;fill:#000;stroke:#000;stroke-width:0.35px" textLength="87.4" lengthAdjust="spacingAndGlyphs">Statistics in CCR</text>
<g fill="none" stroke="#000" stroke-width="1.8" stroke-linejoin="miter" stroke-linecap="butt"><path d="M456.6 589.6 L460.6 581.0 L464.7 589.6 L468.9 581.0 L473.1 589.6" stroke-linejoin="round"/><path d="M459.6 587.2 H462.8 M467.9 587.2 H471.2"/><path d="M481.0 582.3 A4.1 4.1 0 1 0 481.0 588.4"/><path d="M477.8 585.3 H489.5"/><path d="M483.6 589.8 V581.8 H488.6 A1.75 1.75 0 0 1 488.6 585.3 M488.2 585.3 L492.3 589.8"/></g>
</svg></body></html>
